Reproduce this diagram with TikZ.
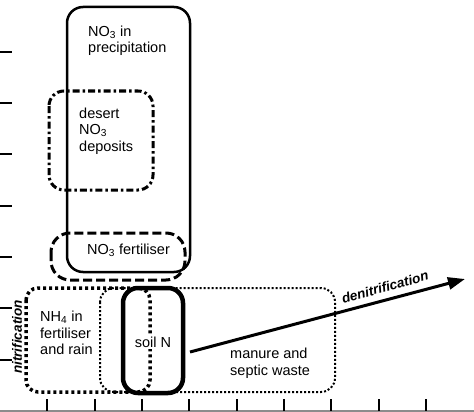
\documentclass[tikz,border=0pt]{standalone}
\usepackage{fontspec}
\setmainfont{Liberation Sans}
\usetikzlibrary{arrows.meta}
\begin{document}
\begin{tikzpicture}[x=1pt,y=-1pt,
  lbl/.style={font=\fontsize{14.5}{16.5}\selectfont, inner sep=0pt, align=left},
  precbox/.style={draw, line width=2.5pt, rounded corners=16pt},
  desertbox/.style={draw, line width=3pt, rounded corners=15pt, dash pattern=on 7pt off 3pt on 2.5pt off 3pt},
  fertbox/.style={draw, line width=3pt, rounded corners=19pt, dash pattern=on 9pt off 4pt},
  nhbox/.style={draw, line width=3.5pt, rounded corners=12pt, dash pattern=on 3pt off 3pt},
  manbox/.style={draw, line width=2pt, rounded corners=14pt, dash pattern=on 2pt off 2pt},
  soilbox/.style={draw, line width=4.5pt, rounded corners=15pt},
  tickmark/.style={line width=1.3pt},
  axisline/.style={line width=1.5pt, draw=black!45},
  flow/.style={line width=3pt, -{Triangle[length=17pt,width=12pt]}},
  proc/.style={font=\fontsize{13.5}{15}\selectfont\bfseries\itshape, inner sep=0pt}
]
\useasboundingbox (0,0) rectangle (474,412);
% axes
\foreach \y in {52,103,154,206,257,308,360} \draw[tickmark] (0,\y) -- (12,\y);
\draw[axisline] (0,411) -- (474,411);
\foreach \x in {47,95,142,189,237,284,331,379,426} \draw[tickmark] (\x,399) -- (\x,411);
% regions
\draw[precbox] (67,7) rectangle (190,272);
\draw[desertbox] (49,91) rectangle (153,190);
\draw[fertbox] (51,233) rectangle (185,280);
\draw[manbox] (100,288) rectangle (335,392);
\draw[nhbox] (26,288) rectangle (150,392);
\draw[soilbox] (123,288) rectangle (183,393);
% labels
\node[lbl, anchor=west] (prec) at (88,41) {NO\textsubscript{3} in\\precipitation};
\node[lbl, anchor=west] (desert) at (79,131) {desert\\NO\textsubscript{3}\\deposits};
\node[lbl] (fert) at (128.5,250) {NO\textsubscript{3} fertiliser};
\node[lbl, anchor=west] (nh) at (40,333) {NH\textsubscript{4} in\\fertiliser\\and rain};
\node[lbl, fill=white, inner xsep=0pt, inner ysep=1.5pt] (soil) at (153,342) {soil N};
\node[lbl, anchor=west] (manure) at (230,363) {manure and\\septic waste};
% processes
\coordinate (dstart) at (190,352);
\coordinate (dend) at (465,279);
\draw[flow] (dstart) -- (dend);
\node[proc, rotate=15.5] (denit) at (385,287) {denitrification};
\node[proc, rotate=90] (nit) at (17,337) {nitrification};
\end{tikzpicture}
\end{document}
